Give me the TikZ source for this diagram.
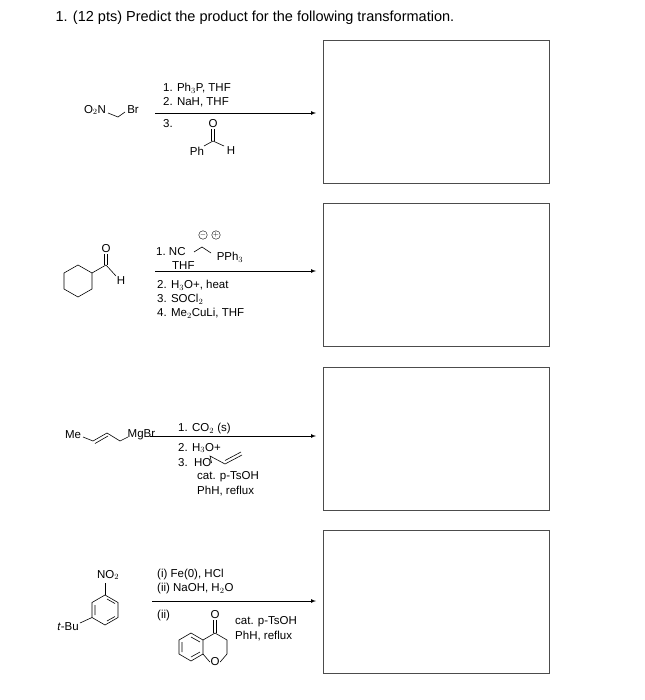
\documentclass[tikz,border=0pt]{standalone}
\usepackage{fontspec}
\setmainfont{Liberation Sans}
\begin{document}
\begin{tikzpicture}[x=1pt,y=-1pt,font=\fontsize{11.5}{13}\selectfont,
  lab/.style={inner sep=0.5pt},
  rl/.style={anchor=west,inner sep=0pt},
  box/.style={draw=black!70,line width=0.7pt},
  rxn/.style={-latex,line width=0.7pt},
  bd/.style={line width=0.6pt}]
\useasboundingbox (0,0) rectangle (644,700);
\node[anchor=west,font=\fontsize{14.5}{16}\selectfont] (title) at (52,18) {1. (12 pts) Predict the product for the following transformation.};
% boxes
\foreach \n/\y in {b1/40,b2/203,b3/367,b4/530}{
  \draw[box] (323,\y) rectangle (549,\y+143);
  \coordinate (\n) at (323,\y+72);}
% row 1
\draw[rxn] (155,113) -- (316,113);
\node[lab] (o2n) at (95,110) {O$_2$N};
\node[lab] (br1) at (133,110) {Br};
\coordinate (c1) at (118,117);
\draw[bd] (108,113) -- (c1) -- (125,112);
\node[rl] (r11) at (163,88) {1. Ph$_3$P, THF};
\node[rl] (r12) at (163,102) {2. NaH, THF};
\node[rl] (r13) at (163,124) {3.};
\coordinate (ca) at (213,141);
\node[lab] (o1) at (213,124) {O};
\node[lab] (ph1) at (197,151) {Ph};
\node[lab] (h1) at (231,151) {H};
\draw[bd] ([xshift=-1.3]o1.south) -- ([xshift=-1.3]ca);
\draw[bd] ([xshift=1.3]o1.south) -- ([xshift=1.3]ca);
\draw[bd] (204,146) -- (ca) -- (224,146);
% row 2
\draw[rxn] (155,271) -- (316,271);
\draw[bd] (78,265)--(92,273)--(92,289)--(78,297)--(64,289)--(64,273)--cycle;
\coordinate (cc) at (106,265);
\node[lab] (o2) at (106,249) {O};
\node[lab] (h2) at (121,281) {H};
\draw[bd] (92,273) -- (cc) -- (116,276);
\draw[bd] ([xshift=-1.3]o2.south) -- ([xshift=-1.3]cc);
\draw[bd] ([xshift=1.3]o2.south) -- ([xshift=1.3]cc);
\node[rl] (r21) at (156,252) {1.\ NC};
\coordinate (yc) at (202,247);
\node[lab] (pph) at (230,257) {PPh$_3$};
\draw[bd] (194,252) -- (yc) -- (211,253);
\node[draw,circle,inner sep=0pt,minimum size=8.5pt,font=\fontsize{7}{7}\selectfont] (mi) at (203,235) {$-$};
\node[draw,circle,inner sep=0pt,minimum size=8.5pt,font=\fontsize{7}{7}\selectfont] (pl) at (216,235) {$+$};
\node[rl] (r22) at (172,266) {THF};
\node[rl] (r23) at (157,285) {2. H$_3$O+, heat};
\node[rl] (r24) at (157,299) {3. SOCl$_2$};
\node[rl] (r25) at (157,313) {4. Me$_2$CuLi, THF};
% row 3
\node[lab] (me) at (73,435) {Me};
\node[lab,anchor=west] (mgbr) at (127,435) {MgBr};
\draw[bd] (83,437) -- (93,441) -- (107,433) -- (120,441) -- (128,437);
\draw[bd] (95,443.5) -- (108,436);
\draw[rxn] (150,436) -- (316,436);
\node[rl] (r31) at (178,429) {1. CO$_2$ (s)};
\node[rl] (r32) at (178,448) {2. H$_3$O+};
\node[rl] (r33) at (178,463) {3.\ \ HO};
\draw[bd] (r33.east) -- (210,456) -- (225,464) -- (242,455);
\draw[bd] (225,460.5) -- (241,452);
\node[rl] (r34) at (197,477) {cat. p-TsOH};
\node[rl] (r35) at (197,491) {PhH, reflux};
% row 4
\draw[rxn] (152,601) -- (316,601);
\draw[bd] (105,595)--(118,602.5)--(118,617.5)--(105,625)--(92,617.5)--(92,602.5)--cycle;
\draw[bd] (107,599)--(115,603.5) (115,616.5)--(107,621) (95,615)--(95,605);
\node[lab] (no2) at (108,575) {NO$_2$};
\draw[bd] (105,583) -- (105,595);
\node[lab] (tbu) at (68,627) {\textit{t}-Bu};
\draw[bd] (80,623) -- (92,617.5);
\node[rl] (r41) at (157,575) {(i) Fe(0), HCl};
\node[rl] (r42) at (157,589) {(ii) NaOH, H$_2$O};
\node[rl] (r43) at (157,616) {(ii)};
% chromanone
\draw[bd] (191,633)--(203,640)--(203,654)--(191,661)--(179,654)--(179,640)--cycle;
\draw[bd] (191,637)--(200,642) (200,652)--(191,657) (182,652)--(182,642);
\draw[bd] (203,640)--(215,633)--(227,640)--(227,654);
\node[lab] (oring) at (215,662) {O};
\draw[bd] (227,654)--(oring.east) (oring.west)--(203,654);
\node[lab] (o4) at (215,615) {O};
\draw[bd] ([xshift=-1.3]o4.south) -- (213.7,633);
\draw[bd] ([xshift=1.3]o4.south) -- (216.3,633);
\node[rl] (r44) at (235,622) {cat. p-TsOH};
\node[rl] (r45) at (235,636) {PhH, reflux};
\end{tikzpicture}
\end{document}
